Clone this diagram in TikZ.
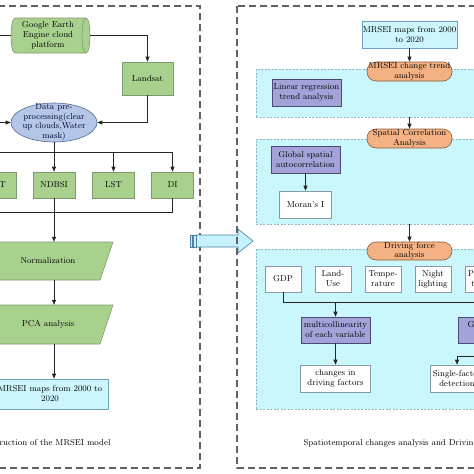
\documentclass[tikz,border=0pt]{standalone}
\usetikzlibrary{shapes.geometric,arrows.meta}
\definecolor{grn}{HTML}{A9D18E}
\definecolor{grnline}{HTML}{7F9A70}
\definecolor{cyf}{HTML}{CCF6FC}
\definecolor{cyl}{HTML}{6FA2C0}
\definecolor{ellf}{HTML}{B4C7E7}
\definecolor{elll}{HTML}{4F6A94}
\definecolor{orf}{HTML}{F4B183}
\definecolor{orl}{HTML}{8B5A3C}
\definecolor{purf}{HTML}{A3A3DA}
\definecolor{purl}{HTML}{4A4A78}
\definecolor{regf}{HTML}{C9F7FC}
\definecolor{regl}{HTML}{8FB4C2}
\definecolor{whl}{HTML}{8A9AA5}
\definecolor{bigf}{HTML}{C5F2FB}
\definecolor{bigl}{HTML}{4F81A8}
\begin{document}
\begin{tikzpicture}[x=1pt,y=-1pt,
  font=\fontsize{8.6}{10}\selectfont,
  base/.style={line width=0.6pt, inner sep=0pt, align=center},
  greenbox/.style={base, draw=grnline, fill=grn, minimum width=42pt, minimum height=26pt},
  cyanbox/.style={base, draw=cyl, fill=cyf},
  orangebox/.style={base, draw=orl, fill=orf, rounded corners=9pt, minimum width=85pt, minimum height=19pt, font=\fontsize{8.6}{9.4}\selectfont},
  purplebox/.style={base, draw=purl, fill=purf, minimum width=69pt, minimum height=26pt},
  whitebox/.style={base, draw=whl, fill=white, minimum height=27pt},
  factor/.style={whitebox, minimum width=36pt, minimum height=26pt},
  region/.style={fill=regf, draw=regl, line width=0.5pt, dash pattern=on 2pt off 1.5pt, inner sep=0pt},
  panel/.style={draw=black!62, line width=1.2pt, dash pattern=on 7pt off 4pt},
  ghost/.style={inner sep=0pt},
  arr/.style={-{Triangle[length=5pt,width=4pt]}, line width=0.7pt, draw=black!85},
  ln/.style={line width=0.7pt, draw=black!85}]
\useasboundingbox (0,0) rectangle (474,474);

% ---------- left panel ----------
\draw[panel] (-100,6) rectangle (200,468);

% cylinder
\node[ghost, minimum width=79pt, minimum height=35pt] (gee) at (50.5,35.5) {};
\draw[grnline, fill=grn, line width=0.6pt]
  (15,18) -- (86,18) .. controls (91.3,18) and (91.3,53) .. (86,53)
  -- (15,53) .. controls (9.7,53) and (9.7,18) .. (15,18) -- cycle;
\draw[grnline, line width=0.6pt] (86,18) .. controls (80.7,18) and (80.7,53) .. (86,53);
\node[align=center] (geetext) at (48,35.5) {Google Earth\\Engine cloud\\platform};

\node[greenbox, minimum width=51pt, minimum height=33pt] (landsat) at (147.5,78.5) {Landsat};

\node[ellipse, draw=elll, fill=ellf, line width=0.6pt, minimum width=86pt, minimum height=39pt, inner sep=0pt] (dp) at (54,122.5) {};
\node[align=center, text=black!80!blue, font=\fontsize{8.6}{9.6}\selectfont] (dptext) at (54,122) {Data pre-\\processing(clear\\up clouds,Water\\mask)};

\node[greenbox] (wet) at (-5,185) {WET};
\node[greenbox] (ndbsi) at (54,185) {NDBSI};
\node[greenbox] (lst) at (113.5,185) {LST};
\node[greenbox] (di) at (172.5,185) {DI};

\draw[grnline, fill=grn, line width=0.6pt] (-4,242) -- (113,242) -- (100,280) -- (-17,280) -- cycle;
\node[ghost, minimum width=100pt, minimum height=38pt] (norm) at (48,261) {Normalization};
\draw[grnline, fill=grn, line width=0.6pt] (-4,305) -- (113,305) -- (100,344) -- (-17,344) -- cycle;
\node[ghost, minimum width=100pt, minimum height=39pt] (pca) at (48,324.5) {PCA analysis};

\node[cyanbox, minimum width=116pt, minimum height=30pt] (mrs1) at (50,394) {MRSEI maps from 2000 to\\2020};
\node[anchor=east] (cap1) at (114,443) {Construction of the MRSEI model};

\coordinate (gin) at (-10,35.5);
\coordinate (din) at (-10,122.5);
\coordinate (b1) at (54,152);
\coordinate (b2) at (54,212);
\draw[ln] (gin) -- (gee.west);
\draw[arr] (gee.east) -| (landsat.north);
\draw[arr] (landsat.south) |- (dp.east);
\draw[arr] (din) -- (dp.west);
\draw[ln] (dp.south) -- (b1);
\draw[ln] (b1 -| wet.north) -- (b1 -| di.north);
\draw[arr] (b1 -| wet.north) -- (wet.north);
\draw[arr] (b1) -- (ndbsi.north);
\draw[arr] (b1 -| lst.north) -- (lst.north);
\draw[arr] (b1 -| di.north) -- (di.north);
\draw[ln] (di.south) |- (b2 -| wet.south);
\draw[ln] (wet.south) -- (b2 -| wet.south);
\draw[arr] (ndbsi.south) -- (ndbsi.south |- norm.north);
\draw[arr] (ndbsi.south |- norm.south) -- (ndbsi.south |- pca.north);
\draw[arr] (ndbsi.south |- pca.south) -- (ndbsi.south |- mrs1.north);

% ---------- big arrow ----------
\draw[bigl, fill=bigf, line width=0.6pt] (196,235) -- (238,235) -- (238,229) -- (253,241) -- (238,253) -- (238,247) -- (196,247) -- cycle;
\draw[bigl, fill=bigf, line width=0.6pt] (190,235) rectangle (192.6,247);
\draw[bigl, fill=bigf, line width=0.6pt] (193.4,235) rectangle (196,247);

% ---------- right panel ----------
\draw[panel] (237,6) rectangle (560,468);

\node[region, minimum width=284pt, minimum height=48pt] (reg1) at (398,93) {};
\node[region, minimum width=284pt, minimum height=85pt] (reg2) at (398,181.5) {};
\node[region, minimum width=284pt, minimum height=160pt] (reg3) at (398,329) {};

\node[cyanbox, minimum width=95pt, minimum height=27pt] (mrs2) at (409.5,34.5) {MRSEI maps from 2000\\to 2020};
\node[orangebox] (or1) at (409.5,71.5) {MRSEI change trend\\analysis};
\node[purplebox, minimum height=27pt] (lr) at (306.5,92.5) {Linear regression\\trend analysis};
\node[orangebox] (or2) at (409.5,138.5) {Spatial Correlation\\Analysis};
\node[purplebox, minimum height=27pt] (gsa) at (305.5,159.5) {Global spatial\\autocorrelation};
\node[whitebox, minimum width=52pt] (moran) at (305.5,204.5) {Moran's I};
\node[orangebox, minimum height=18pt] (or3) at (409.5,251) {Driving force\\analysis};

\node[factor] (gdp) at (283,279) {GDP};
\node[factor] (land) at (333,279) {Land-\\Use};
\node[factor] (temp) at (383,279) {Tempe-\\rature};
\node[factor] (night) at (433,279) {Night\\lighting};
\node[factor] (prec) at (483,279) {Precipi-\\tation};

\node[purplebox] (mc) at (335.5,330) {multicollinearity\\of each variable};
\node[whitebox, minimum width=70pt] (chg) at (335.5,378.5) {changes in\\driving factors};
\node[purplebox, minimum width=70pt] (geo) at (493,330) {Geographical\\detector};
\node[whitebox, minimum width=54pt] (sfd) at (457,378.5) {Single-factor\\detection};

\node[anchor=west] (cap2) at (300,443) {Spatiotemporal changes analysis and Driving force analysis};

\coordinate (b3) at (540,302);
\coordinate (b4) at (493,356);
\draw[arr] (mrs2.south) -- (or1.north);
\draw[arr] (or1 |- reg1.south) -- (or2.north);
\draw[arr] (gsa.south) -- (moran.north);
\draw[arr] (or2 |- reg2.south) -- (or3.north);
\draw[ln] (gdp.south) |- (b3);
\draw[arr] (mc.north |- b3) -- (mc.north);
\draw[arr] (geo.north |- b3) -- (geo.north);
\draw[arr] (mc.south) -- (chg.north);
\draw[ln] (geo.south) -- (b4);
\draw[arr] (b4) -| (sfd.north);
\end{tikzpicture}
\end{document}
